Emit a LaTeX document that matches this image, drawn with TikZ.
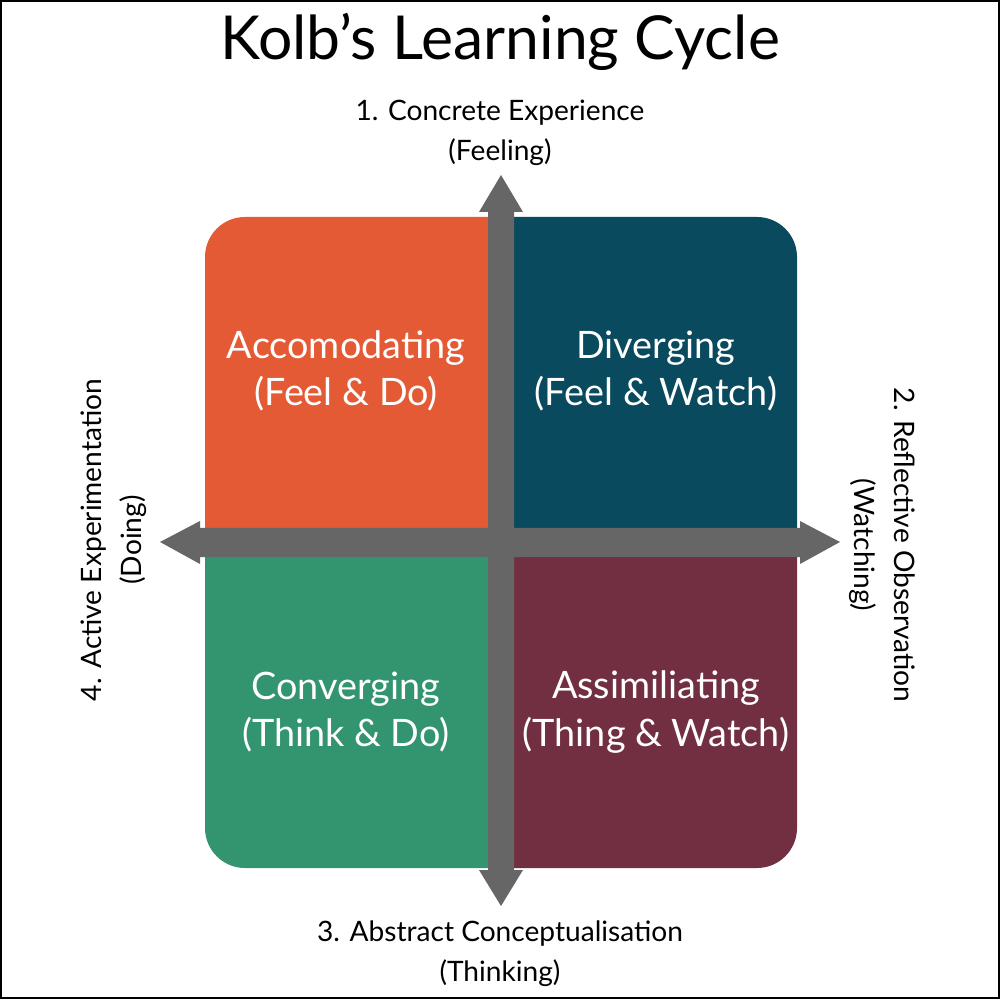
\documentclass[tikz,border=0pt]{standalone}
\usepackage{fontspec}
\setmainfont{Lato}
\definecolor{corg}{HTML}{E35A35}
\definecolor{cteal}{HTML}{0A4A5E}
\definecolor{cgreen}{HTML}{339470}
\definecolor{cmar}{HTML}{722F41}
\definecolor{cgray}{HTML}{666666}
\begin{document}
\begin{tikzpicture}[x=0.02cm,y=-0.02cm,
  qtext/.style={text=white,font=\fontsize{21.5}{27}\selectfont,align=center},
  lab/.style={font=\fontsize{16}{23}\selectfont,align=center}]
\useasboundingbox (0,0) rectangle (1000,999);
\draw[black,line width=0.8pt] (1,1) rectangle (999,998);
\node (title) at (500,42) {\fontsize{34.5}{40}\selectfont Kolb{\char"0027}s Learning Cycle};
% quadrants
\fill[corg] (205,528) -- (205,257) arc[start angle=180,end angle=90,x radius=40,y radius=-40] -- (488,217) -- (488,528) -- cycle;
\fill[cteal] (514,528) -- (514,217) -- (757,217) arc[start angle=90,end angle=0,x radius=40,y radius=-40] -- (797,528) -- cycle;
\fill[cgreen] (205,557) -- (488,557) -- (488,868) -- (245,868) arc[start angle=270,end angle=180,x radius=40,y radius=-40] -- cycle;
\fill[cmar] (514,557) -- (797,557) -- (797,828) arc[start angle=0,end angle=-90,x radius=40,y radius=-40] -- (514,868) -- cycle;
% cross
\fill[cgray] (501,175) -- (523,212) -- (514,212) -- (514,528) -- (800,528) -- (800,521) -- (840,542) -- (800,564) -- (800,557) -- (514,557) -- (514,870) -- (523,870) -- (501,906) -- (479,870) -- (488,870) -- (488,557) -- (200,557) -- (200,564) -- (160,542) -- (200,521) -- (200,528) -- (488,528) -- (488,212) -- (479,212) -- cycle;
\node[qtext] (q1) at (346,371) {Accomodating\\(Feel \& Do)};
\node[qtext] (q2) at (656,371) {Diverging\\(Feel \& Watch)};
\node[qtext] (q3) at (346,712) {Converging\\(Think \& Do)};
\node[qtext] (q4) at (656,712) {Assimiliating\\(Thing \& Watch)};
\node[lab] (l1) at (500,133) {1. Concrete Experience\\(Feeling)};
\node[lab] (l3) at (500,954) {3. Abstract Conceptualisation\\(Thinking)};
\node[lab,rotate=-90] (l2) at (882,545) {2. Reflective Observation\\(Watching)};
\node[lab,rotate=90] (l4) at (114,540) {4. Active Experimentation\\(Doing)};
\end{tikzpicture}
\end{document}
